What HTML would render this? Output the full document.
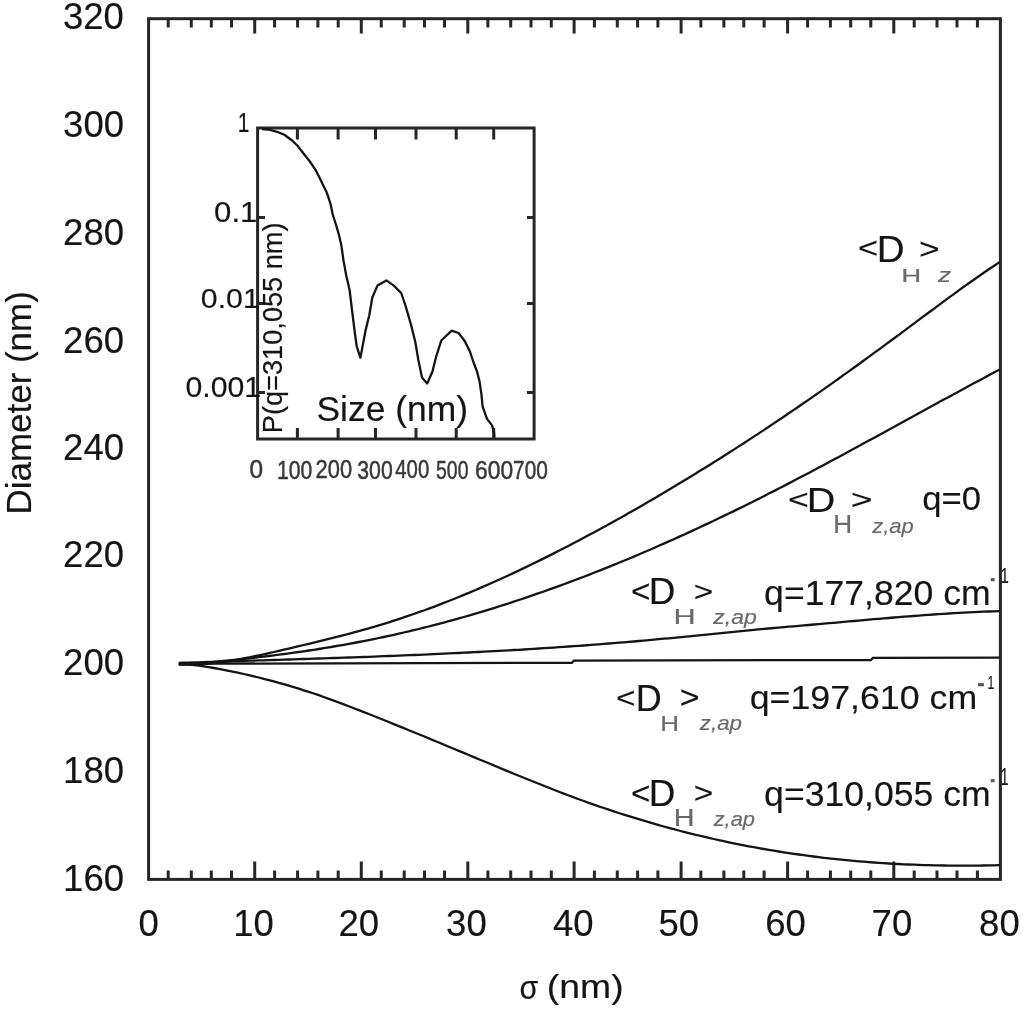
<!DOCTYPE html>
<html><head><meta charset="utf-8"><style>
html,body{margin:0;padding:0;background:#fff;width:1025px;height:1011px;overflow:hidden}
svg{display:block;filter:blur(0.5px)}
</style></head><body>
<svg width="1025" height="1011" viewBox="0 0 1025 1011"><rect x="148.6" y="18.7" width="851.80" height="860.70" fill="none" stroke="#262626" stroke-width="3"/>
<path d="M168.20 879.4V870.5M168.20 18.7V27.5M191.30 879.4V870.5M191.30 18.7V27.5M211.30 879.4V870.5M211.30 18.7V27.5M231.50 879.4V870.5M231.50 18.7V27.5M254.70 879.4V861.5M254.70 18.7V33.5M274.60 879.4V870.5M274.60 18.7V27.5M297.60 879.4V870.5M297.60 18.7V27.5M317.90 879.4V870.5M317.90 18.7V27.5M338.20 879.4V870.5M338.20 18.7V27.5M361.30 879.4V861.5M361.30 18.7V33.5M381.25 879.4V870.5M381.25 18.7V27.5M404.20 879.4V870.5M404.20 18.7V27.5M424.50 879.4V870.5M424.50 18.7V27.5M444.50 879.4V870.5M444.50 18.7V27.5M467.80 879.4V861.5M467.80 18.7V33.5M487.90 879.4V870.5M487.90 18.7V27.5M510.70 879.4V870.5M510.70 18.7V27.5M531.00 879.4V870.5M531.00 18.7V27.5M551.30 879.4V870.5M551.30 18.7V27.5M574.10 879.4V861.5M574.10 18.7V33.5M594.40 879.4V870.5M594.40 18.7V27.5M617.30 879.4V870.5M617.30 18.7V27.5M637.60 879.4V870.5M637.60 18.7V27.5M657.90 879.4V870.5M657.90 18.7V27.5M681.10 879.4V861.5M681.10 18.7V33.5M700.85 879.4V870.5M700.85 18.7V27.5M723.90 879.4V870.5M723.90 18.7V27.5M743.80 879.4V870.5M743.80 18.7V27.5M764.10 879.4V870.5M764.10 18.7V27.5M787.60 879.4V861.5M787.60 18.7V33.5M807.60 879.4V870.5M807.60 18.7V27.5M830.40 879.4V870.5M830.40 18.7V27.5M850.70 879.4V870.5M850.70 18.7V27.5M870.80 879.4V870.5M870.80 18.7V27.5M893.80 879.4V861.5M893.80 18.7V33.5M914.20 879.4V870.5M914.20 18.7V27.5M937.00 879.4V870.5M937.00 18.7V27.5M957.00 879.4V870.5M957.00 18.7V27.5M977.40 879.4V870.5M977.40 18.7V27.5" stroke="#262626" stroke-width="3" fill="none"/>
<path d="M178.8 664.4 L183.8 664.6 L188.8 664.6 L193.8 664.5 L198.8 664.3 L203.8 664.0 L208.8 663.6 L213.8 663.1 L218.8 662.5 L223.8 661.8 L228.8 661.1 L233.8 660.3 L238.8 659.4 L243.8 658.4 L248.8 657.5 L253.8 656.4 L258.8 655.4 L263.8 654.3 L268.8 653.2 L273.8 652.0 L278.8 650.9 L283.8 649.7 L288.8 648.6 L293.8 647.4 L298.8 646.2 L303.8 645.0 L308.8 643.8 L313.8 642.6 L318.8 641.4 L323.8 640.1 L328.8 638.9 L333.8 637.6 L338.8 636.4 L343.8 635.1 L348.8 633.8 L353.8 632.4 L358.8 631.1 L363.8 629.7 L368.8 628.3 L373.8 626.9 L378.8 625.4 L383.8 623.9 L388.8 622.3 L393.8 620.7 L398.8 619.1 L403.8 617.4 L408.8 615.7 L413.8 614.0 L418.8 612.2 L423.8 610.5 L428.8 608.6 L433.8 606.8 L438.8 604.9 L443.8 602.9 L448.8 601.0 L453.8 599.0 L458.8 597.0 L463.8 594.9 L468.8 592.9 L473.8 590.7 L478.8 588.6 L483.8 586.4 L488.8 584.3 L493.8 582.0 L498.8 579.8 L503.8 577.5 L508.8 575.2 L513.8 572.9 L518.8 570.5 L523.8 568.1 L528.8 565.7 L533.8 563.3 L538.8 560.9 L543.8 558.4 L548.8 555.9 L553.8 553.4 L558.8 550.8 L563.8 548.3 L568.8 545.7 L573.8 543.1 L578.8 540.4 L583.8 537.8 L588.8 535.1 L593.8 532.4 L598.8 529.7 L603.8 527.0 L608.8 524.2 L613.8 521.5 L618.8 518.7 L623.8 515.9 L628.8 513.1 L633.8 510.2 L638.8 507.4 L643.8 504.5 L648.8 501.6 L653.8 498.7 L658.8 495.7 L663.8 492.8 L668.8 489.8 L673.8 486.8 L678.8 483.8 L683.8 480.8 L688.8 477.8 L693.8 474.7 L698.8 471.6 L703.8 468.5 L708.8 465.4 L713.8 462.3 L718.8 459.2 L723.8 456.0 L728.8 452.8 L733.8 449.6 L738.8 446.4 L743.8 443.2 L748.8 439.9 L753.8 436.6 L758.8 433.4 L763.8 430.1 L768.8 426.7 L773.8 423.4 L778.8 420.0 L783.8 416.7 L788.8 413.3 L793.8 409.9 L798.8 406.5 L803.8 403.0 L808.8 399.6 L813.8 396.1 L818.8 392.6 L823.8 389.1 L828.8 385.6 L833.8 382.1 L838.8 378.5 L843.8 374.9 L848.8 371.4 L853.8 367.8 L858.8 364.2 L863.8 360.5 L868.8 356.9 L873.8 353.2 L878.8 349.6 L883.8 345.9 L888.8 342.2 L893.8 338.5 L898.8 334.8 L903.8 331.1 L908.8 327.4 L913.8 323.7 L918.8 319.9 L923.8 316.2 L928.8 312.5 L933.8 308.8 L938.8 305.1 L943.8 301.4 L948.8 297.7 L953.8 294.1 L958.8 290.4 L963.8 286.8 L968.8 283.3 L973.8 279.7 L978.8 276.2 L983.8 272.8 L988.8 269.3 L993.8 266.0 L998.8 262.6 L999.5 262.2" fill="none" stroke="#141414" stroke-width="2.3" stroke-linejoin="round"/>
<path d="M178.8 664.7 L183.8 664.3 L188.8 663.9 L193.8 663.5 L198.8 663.1 L203.8 662.7 L208.8 662.3 L213.8 661.8 L218.8 661.4 L223.8 660.9 L228.8 660.4 L233.8 659.9 L238.8 659.4 L243.8 658.9 L248.8 658.3 L253.8 657.8 L258.8 657.2 L263.8 656.6 L268.8 656.0 L273.8 655.4 L278.8 654.7 L283.8 654.1 L288.8 653.4 L293.8 652.7 L298.8 652.0 L303.8 651.3 L308.8 650.5 L313.8 649.8 L318.8 649.0 L323.8 648.2 L328.8 647.4 L333.8 646.5 L338.8 645.7 L343.8 644.8 L348.8 643.9 L353.8 643.0 L358.8 642.0 L363.8 641.1 L368.8 640.1 L373.8 639.1 L378.8 638.0 L383.8 637.0 L388.8 635.9 L393.8 634.8 L398.8 633.7 L403.8 632.5 L408.8 631.4 L413.8 630.2 L418.8 629.0 L423.8 627.7 L428.8 626.5 L433.8 625.2 L438.8 623.9 L443.8 622.6 L448.8 621.2 L453.8 619.8 L458.8 618.4 L463.8 617.0 L468.8 615.6 L473.8 614.1 L478.8 612.7 L483.8 611.1 L488.8 609.6 L493.8 608.1 L498.8 606.5 L503.8 604.9 L508.8 603.3 L513.8 601.7 L518.8 600.0 L523.8 598.4 L528.8 596.7 L533.8 594.9 L538.8 593.2 L543.8 591.5 L548.8 589.7 L553.8 587.9 L558.8 586.1 L563.8 584.2 L568.8 582.4 L573.8 580.5 L578.8 578.6 L583.8 576.7 L588.8 574.8 L593.8 572.8 L598.8 570.9 L603.8 568.9 L608.8 566.9 L613.8 564.9 L618.8 562.8 L623.8 560.8 L628.8 558.7 L633.8 556.6 L638.8 554.5 L643.8 552.3 L648.8 550.2 L653.8 548.0 L658.8 545.8 L663.8 543.6 L668.8 541.4 L673.8 539.2 L678.8 536.9 L683.8 534.7 L688.8 532.4 L693.8 530.1 L698.8 527.8 L703.8 525.4 L708.8 523.1 L713.8 520.7 L718.8 518.3 L723.8 515.9 L728.8 513.5 L733.8 511.1 L738.8 508.6 L743.8 506.2 L748.8 503.7 L753.8 501.2 L758.8 498.7 L763.8 496.2 L768.8 493.6 L773.8 491.1 L778.8 488.5 L783.8 485.9 L788.8 483.4 L793.8 480.8 L798.8 478.1 L803.8 475.5 L808.8 472.9 L813.8 470.2 L818.8 467.6 L823.8 464.9 L828.8 462.2 L833.8 459.6 L838.8 456.9 L843.8 454.2 L848.8 451.5 L853.8 448.8 L858.8 446.0 L863.8 443.3 L868.8 440.6 L873.8 437.9 L878.8 435.2 L883.8 432.4 L888.8 429.7 L893.8 426.9 L898.8 424.2 L903.8 421.5 L908.8 418.7 L913.8 416.0 L918.8 413.3 L923.8 410.5 L928.8 407.8 L933.8 405.0 L938.8 402.3 L943.8 399.6 L948.8 396.9 L953.8 394.2 L958.8 391.4 L963.8 388.7 L968.8 386.0 L973.8 383.3 L978.8 380.7 L983.8 378.0 L988.8 375.3 L993.8 372.6 L998.8 370.0 L999.5 369.6" fill="none" stroke="#141414" stroke-width="2.3" stroke-linejoin="round"/>
<path d="M178.8 662.9 L183.8 662.7 L188.8 662.6 L193.8 662.4 L198.8 662.3 L203.8 662.1 L208.8 662.0 L213.8 661.8 L218.8 661.7 L223.8 661.5 L228.8 661.4 L233.8 661.2 L238.8 661.0 L243.8 660.9 L248.8 660.7 L253.8 660.6 L258.8 660.4 L263.8 660.3 L268.8 660.1 L273.8 660.0 L278.8 659.8 L283.8 659.7 L288.8 659.5 L293.8 659.3 L298.8 659.2 L303.8 659.0 L308.8 658.9 L313.8 658.7 L318.8 658.5 L323.8 658.4 L328.8 658.2 L333.8 658.0 L338.8 657.8 L343.8 657.7 L348.8 657.5 L353.8 657.3 L358.8 657.1 L363.8 657.0 L368.8 656.8 L373.8 656.6 L378.8 656.4 L383.8 656.2 L388.8 656.0 L393.8 655.8 L398.8 655.6 L403.8 655.4 L408.8 655.2 L413.8 655.0 L418.8 654.8 L423.8 654.6 L428.8 654.4 L433.8 654.1 L438.8 653.9 L443.8 653.7 L448.8 653.4 L453.8 653.2 L458.8 653.0 L463.8 652.7 L468.8 652.5 L473.8 652.2 L478.8 652.0 L483.8 651.7 L488.8 651.4 L493.8 651.2 L498.8 650.9 L503.8 650.6 L508.8 650.3 L513.8 650.0 L518.8 649.8 L523.8 649.5 L528.8 649.2 L533.8 648.8 L538.8 648.5 L543.8 648.2 L548.8 647.9 L553.8 647.6 L558.8 647.2 L563.8 646.9 L568.8 646.5 L573.8 646.2 L578.8 645.8 L583.8 645.5 L588.8 645.1 L593.8 644.7 L598.8 644.3 L603.8 643.9 L608.8 643.5 L613.8 643.1 L618.8 642.7 L623.8 642.3 L628.8 641.9 L633.8 641.5 L638.8 641.0 L643.8 640.6 L648.8 640.1 L653.8 639.7 L658.8 639.2 L663.8 638.7 L668.8 638.3 L673.8 637.8 L678.8 637.3 L683.8 636.8 L688.8 636.3 L693.8 635.8 L698.8 635.3 L703.8 634.8 L708.8 634.3 L713.8 633.8 L718.8 633.3 L723.8 632.8 L728.8 632.3 L733.8 631.8 L738.8 631.3 L743.8 630.8 L748.8 630.3 L753.8 629.9 L758.8 629.4 L763.8 628.9 L768.8 628.5 L773.8 628.0 L778.8 627.6 L783.8 627.1 L788.8 626.7 L793.8 626.3 L798.8 625.8 L803.8 625.4 L808.8 625.0 L813.8 624.5 L818.8 624.1 L823.8 623.6 L828.8 623.2 L833.8 622.8 L838.8 622.3 L843.8 621.9 L848.8 621.4 L853.8 621.0 L858.8 620.6 L863.8 620.1 L868.8 619.7 L873.8 619.2 L878.8 618.8 L883.8 618.4 L888.8 618.0 L893.8 617.5 L898.8 617.1 L903.8 616.7 L908.8 616.3 L913.8 616.0 L918.8 615.6 L923.8 615.2 L928.8 614.8 L933.8 614.5 L938.8 614.2 L943.8 613.8 L948.8 613.5 L953.8 613.2 L958.8 612.9 L963.8 612.7 L968.8 612.4 L973.8 612.2 L978.8 611.9 L983.8 611.7 L988.8 611.5 L993.8 611.4 L998.8 611.2 L1000.0 611.2" fill="none" stroke="#141414" stroke-width="2.3" stroke-linejoin="round"/>
<path d="M178.8 663.7 L572.0 662.8 L574.0 660.6 L871.0 660.0 L873.0 657.8 L1000.0 657.7" fill="none" stroke="#141414" stroke-width="2.3" stroke-linejoin="round"/>
<path d="M178.8 663.5 L183.8 663.9 L188.8 664.4 L193.8 665.0 L198.8 665.7 L203.8 666.4 L208.8 667.2 L213.8 668.0 L218.8 668.9 L223.8 669.8 L228.8 670.8 L233.8 671.8 L238.8 672.9 L243.8 674.0 L248.8 675.1 L253.8 676.3 L258.8 677.5 L263.8 678.8 L268.8 680.1 L273.8 681.4 L278.8 682.8 L283.8 684.2 L288.8 685.7 L293.8 687.2 L298.8 688.7 L303.8 690.3 L308.8 691.9 L313.8 693.5 L318.8 695.2 L323.8 697.0 L328.8 698.8 L333.8 700.6 L338.8 702.5 L343.8 704.3 L348.8 706.2 L353.8 708.2 L358.8 710.1 L363.8 712.1 L368.8 714.0 L373.8 716.0 L378.8 718.0 L383.8 720.0 L388.8 722.0 L393.8 724.1 L398.8 726.1 L403.8 728.1 L408.8 730.2 L413.8 732.2 L418.8 734.3 L423.8 736.3 L428.8 738.4 L433.8 740.5 L438.8 742.5 L443.8 744.6 L448.8 746.7 L453.8 748.8 L458.8 750.9 L463.8 752.9 L468.8 755.0 L473.8 757.1 L478.8 759.2 L483.8 761.3 L488.8 763.3 L493.8 765.4 L498.8 767.5 L503.8 769.6 L508.8 771.6 L513.8 773.7 L518.8 775.7 L523.8 777.8 L528.8 779.8 L533.8 781.8 L538.8 783.8 L543.8 785.8 L548.8 787.8 L553.8 789.7 L558.8 791.7 L563.8 793.6 L568.8 795.5 L573.8 797.3 L578.8 799.2 L583.8 801.0 L588.8 802.8 L593.8 804.6 L598.8 806.3 L603.8 808.0 L608.8 809.7 L613.8 811.4 L618.8 813.0 L623.8 814.6 L628.8 816.2 L633.8 817.7 L638.8 819.2 L643.8 820.7 L648.8 822.2 L653.8 823.7 L658.8 825.1 L663.8 826.5 L668.8 827.9 L673.8 829.2 L678.8 830.5 L683.8 831.8 L688.8 833.1 L693.8 834.3 L698.8 835.5 L703.8 836.7 L708.8 837.9 L713.8 839.0 L718.8 840.1 L723.8 841.2 L728.8 842.3 L733.8 843.3 L738.8 844.3 L743.8 845.3 L748.8 846.3 L753.8 847.2 L758.8 848.1 L763.8 849.0 L768.8 849.9 L773.8 850.7 L778.8 851.5 L783.8 852.3 L788.8 853.1 L793.8 853.8 L798.8 854.5 L803.8 855.2 L808.8 855.9 L813.8 856.5 L818.8 857.2 L823.8 857.8 L828.8 858.3 L833.8 858.9 L838.8 859.4 L843.8 859.9 L848.8 860.4 L853.8 860.9 L858.8 861.3 L863.8 861.7 L868.8 862.1 L873.8 862.5 L878.8 862.8 L883.8 863.2 L888.8 863.5 L893.8 863.8 L898.8 864.0 L903.8 864.3 L908.8 864.5 L913.8 864.7 L918.8 864.9 L923.8 865.1 L928.8 865.2 L933.8 865.3 L938.8 865.4 L943.8 865.5 L948.8 865.6 L953.8 865.6 L958.8 865.7 L963.8 865.7 L968.8 865.7 L973.8 865.6 L978.8 865.6 L983.8 865.5 L988.8 865.4 L993.8 865.3 L998.8 865.2 L1000.0 865.2" fill="none" stroke="#141414" stroke-width="2.3" stroke-linejoin="round"/>
<g font-family="'Liberation Sans', Arial, sans-serif" font-size="36" fill="#141414" stroke="#141414" stroke-width="0.15"><text font-size="36.5" transform="translate(63.00 29.15)">320</text><text font-size="36.5" transform="translate(63.10 137.25)">300</text><text font-size="36.5" transform="translate(63.10 245.00)">280</text><text font-size="36.5" transform="translate(63.10 352.75)">260</text><text font-size="36.5" transform="translate(63.10 459.50)">240</text><text font-size="36.5" transform="translate(63.10 567.25)">220</text><text font-size="36.5" transform="translate(63.10 675.00)">200</text><text font-size="36.5" transform="translate(63.10 782.75)">180</text><text font-size="36.5" transform="translate(63.10 890.50)">160</text><text font-size="36.5" transform="translate(138.50 936.15)">0</text><text font-size="36.5" transform="translate(233.20 936.15)">10</text><text font-size="36.5" transform="translate(338.50 936.15)">20</text><text font-size="36.5" transform="translate(446.10 936.15)">30</text><text font-size="36.5" transform="translate(552.90 936.15)">40</text><text font-size="36.5" transform="translate(658.50 936.15)">50</text><text font-size="36.5" transform="translate(765.30 936.15)">60</text><text font-size="36.5" transform="translate(871.60 936.15)">70</text><text font-size="36.5" transform="translate(979.10 936.15)">80</text><text font-size="35" transform="translate(519.54 998.96) scale(0.8724 0.9288)">σ</text><text font-size="35" transform="translate(546.77 997.93) scale(1.0678 0.9495)">(nm)</text><text font-size="35" transform="translate(30.92 514.50) rotate(-90) scale(0.9987 1.0062)">Diameter (nm)</text><text transform="translate(858.07 257.78) scale(0.9576 0.8007)">&lt;</text><text transform="translate(876.81 261.92) scale(1.0708 1.0101)">D</text><text transform="translate(919.03 258.75) scale(0.9811 0.8347)">&gt;</text><text font-size="21" fill="#6a6a6a" stroke="#6a6a6a" stroke-width="0.2" transform="translate(901.24 281.87) scale(1.3162 0.9078)">H</text><text font-size="21" font-style="italic" fill="#6a6a6a" stroke="#6a6a6a" stroke-width="0.2" transform="translate(938.04 281.96) scale(1.2636 0.9766)">z</text><text transform="translate(787.96 508.68) scale(0.9911 0.7778)">&lt;</text><text transform="translate(806.69 512.12) scale(1.0978 0.9872)">D</text><text transform="translate(850.68 508.62) scale(1.0355 0.7477)">&gt;</text><text font-size="21" fill="#6a6a6a" stroke="#6a6a6a" stroke-width="0.2" transform="translate(833.30 533.19) scale(1.2450 1.1902)">H</text><text font-size="21" font-style="italic" fill="#6a6a6a" stroke="#6a6a6a" stroke-width="0.2" transform="translate(872.23 532.50) scale(1.0430 1.0000)">z,ap</text><text transform="translate(922.32 510.44) scale(0.9619 0.9107)">q=0</text><text transform="translate(631.05 601.88) scale(0.9219 0.8554)">&lt;</text><text transform="translate(648.74 603.86) scale(1.0252 1.0101)">D</text><text transform="translate(693.68 600.82) scale(0.9283 0.7917)">&gt;</text><text font-size="21" fill="#6a6a6a" stroke="#6a6a6a" stroke-width="0.2" transform="translate(673.59 623.86) scale(1.4596 1.0419)">H</text><text font-size="21" font-style="italic" fill="#6a6a6a" stroke="#6a6a6a" stroke-width="0.2" transform="translate(713.25 623.90) scale(1.0967 1.0000)">z,ap</text><text transform="translate(764.11 604.70) scale(0.9885 1.0000)">q=177,820 cm</text><text font-size="20" fill="#555" stroke="#555" transform="translate(990.33 588.68) scale(0.7348 1.7950)">-</text><text font-size="20" transform="translate(1000.40 583.11) scale(0.7462 1.0651)">1</text><text transform="translate(615.89 708.24) scale(0.9283 0.8357)">&lt;</text><text transform="translate(635.81 711.20) scale(0.9984 1.0101)">D</text><text transform="translate(679.77 708.45) scale(0.9444 0.8469)">&gt;</text><text font-size="21" fill="#6a6a6a" stroke="#6a6a6a" stroke-width="0.2" transform="translate(660.13 731.10) scale(1.2401 1.0937)">H</text><text font-size="21" font-style="italic" fill="#6a6a6a" stroke="#6a6a6a" stroke-width="0.2" transform="translate(699.82 730.10) scale(1.0646 1.0000)">z,ap</text><text transform="translate(749.70 709.39) scale(0.9930 0.9473)">q=197,610 cm</text><text font-size="20" fill="#555" stroke="#555" transform="translate(976.99 693.68) scale(1.1794 1.7950)">-</text><text font-size="20" transform="translate(987.40 688.80) scale(0.6143 0.9266)">1</text><text transform="translate(631.05 804.00) scale(0.9219 0.8874)">&lt;</text><text transform="translate(648.74 805.90) scale(1.0252 1.0489)">D</text><text transform="translate(693.68 803.08) scale(0.9283 0.8287)">&gt;</text><text font-size="21" fill="#6a6a6a" stroke="#6a6a6a" stroke-width="0.2" transform="translate(673.79 825.93) scale(1.3690 1.1468)">H</text><text font-size="21" font-style="italic" fill="#6a6a6a" stroke="#6a6a6a" stroke-width="0.2" transform="translate(713.67 825.90) scale(1.0389 1.0000)">z,ap</text><text transform="translate(764.11 806.30) scale(0.9885 1.0000)">q=310,055 cm</text><text font-size="20" fill="#555" stroke="#555" transform="translate(990.33 789.58) scale(0.7348 1.7950)">-</text><text font-size="20" transform="translate(1000.50 785.38) scale(0.7255 1.1581)">1</text></g>
<rect x="257.6" y="128.0" width="276.5" height="311.0" fill="#fff" stroke="#262626" stroke-width="3"/>
<path d="M297.40 439.0V428M297.40 128.0V139.5M338.10 439.0V428M338.10 128.0V139.5M375.50 439.0V428M375.50 128.0V139.5M416.00 439.0V428M416.00 128.0V139.5M456.20 439.0V428M456.20 128.0V139.5M493.70 439.0V428M493.70 128.0V139.5M257.6 217.60H265M534.1 217.60H527M257.6 303.60H265M534.1 303.60H527M257.6 392.60H265M534.1 392.60H527" stroke="#262626" stroke-width="3" fill="none"/>
<path d="M262.0 129.0 L268.4 129.5 L278.1 132.2 L284.4 134.8 L292.4 140.7 L297.7 146.0 L304.9 155.3 L310.2 162.0 L315.5 169.8 L319.2 177.0 L322.7 184.3 L326.3 191.4 L328.8 198.5 L330.8 205.0 L332.6 214.0 L335.6 223.5 L338.4 232.8 L341.2 244.5 L343.5 260.6 L346.3 275.7 L349.6 290.0 L352.3 312.3 L354.5 330.1 L356.7 346.4 L360.4 357.6 L363.4 342.0 L365.6 330.1 L369.3 315.3 L372.3 297.5 L377.5 285.6 L386.4 280.4 L393.8 285.6 L401.2 293.0 L405.7 306.4 L410.9 324.2 L415.3 342.0 L418.3 359.8 L422.0 377.6 L427.2 383.5 L432.4 371.7 L436.1 356.8 L441.3 340.5 L451.7 330.7 L458.5 333.0 L464.7 341.0 L469.7 350.9 L473.4 362.0 L477.1 371.9 L479.6 381.8 L481.4 394.2 L482.6 406.5 L487.0 418.9 L491.9 425.1 L493.8 431.2 L494.4 437.4" fill="none" stroke="#141414" stroke-width="2.3" stroke-linejoin="round"/>
<g font-family="'Liberation Sans', Arial, sans-serif" font-size="36" fill="#141414" stroke="#141414" stroke-width="0.15"><text font-size="27" transform="translate(237.70 132.00) scale(0.7800 1.0000)">1</text><text font-size="27" transform="translate(214.10 221.69) scale(1.1544 1.1185)">0.1</text><text font-size="27" transform="translate(200.84 307.72) scale(1.1221 1.0275)">0.01</text><text font-size="27" transform="translate(185.50 397.08) scale(1.1200 1.1267)">0.001</text><text font-size="24" fill="#383838" stroke="#383838" stroke-width="0.45" transform="translate(249.49 477.71) scale(1.0161 1.0560)">0</text><text font-size="24" fill="#383838" stroke="#383838" stroke-width="0.45" transform="translate(277.03 478.67) scale(0.8813 1.0560)">100</text><text font-size="24" fill="#383838" stroke="#383838" stroke-width="0.45" transform="translate(315.57 477.71) scale(0.9113 1.0560)">200</text><text font-size="24" fill="#383838" stroke="#383838" stroke-width="0.45" transform="translate(357.33 478.67) scale(0.8833 1.0560)">300</text><text font-size="24" fill="#383838" stroke="#383838" stroke-width="0.45" transform="translate(395.29 477.71) scale(0.8474 1.0560)">400</text><text font-size="24" fill="#383838" stroke="#383838" stroke-width="0.45" transform="translate(436.10 478.67) scale(0.8073 1.0560)">500</text><text font-size="24" fill="#383838" stroke="#383838" stroke-width="0.45" transform="translate(475.10 478.67) scale(0.9503 1.0560)">600</text><text font-size="24" fill="#383838" stroke="#383838" stroke-width="0.45" transform="translate(513.04 478.67) scale(0.8688 1.0560)">700</text><text font-size="35" transform="translate(316.48 420.51) scale(1.0125 0.9974)">Size (nm)</text><text font-size="24" transform="translate(282.08 433.13) rotate(-90) scale(1.1324 1.1729)">P(q=310,055 nm)</text></g></svg>
</body></html>
